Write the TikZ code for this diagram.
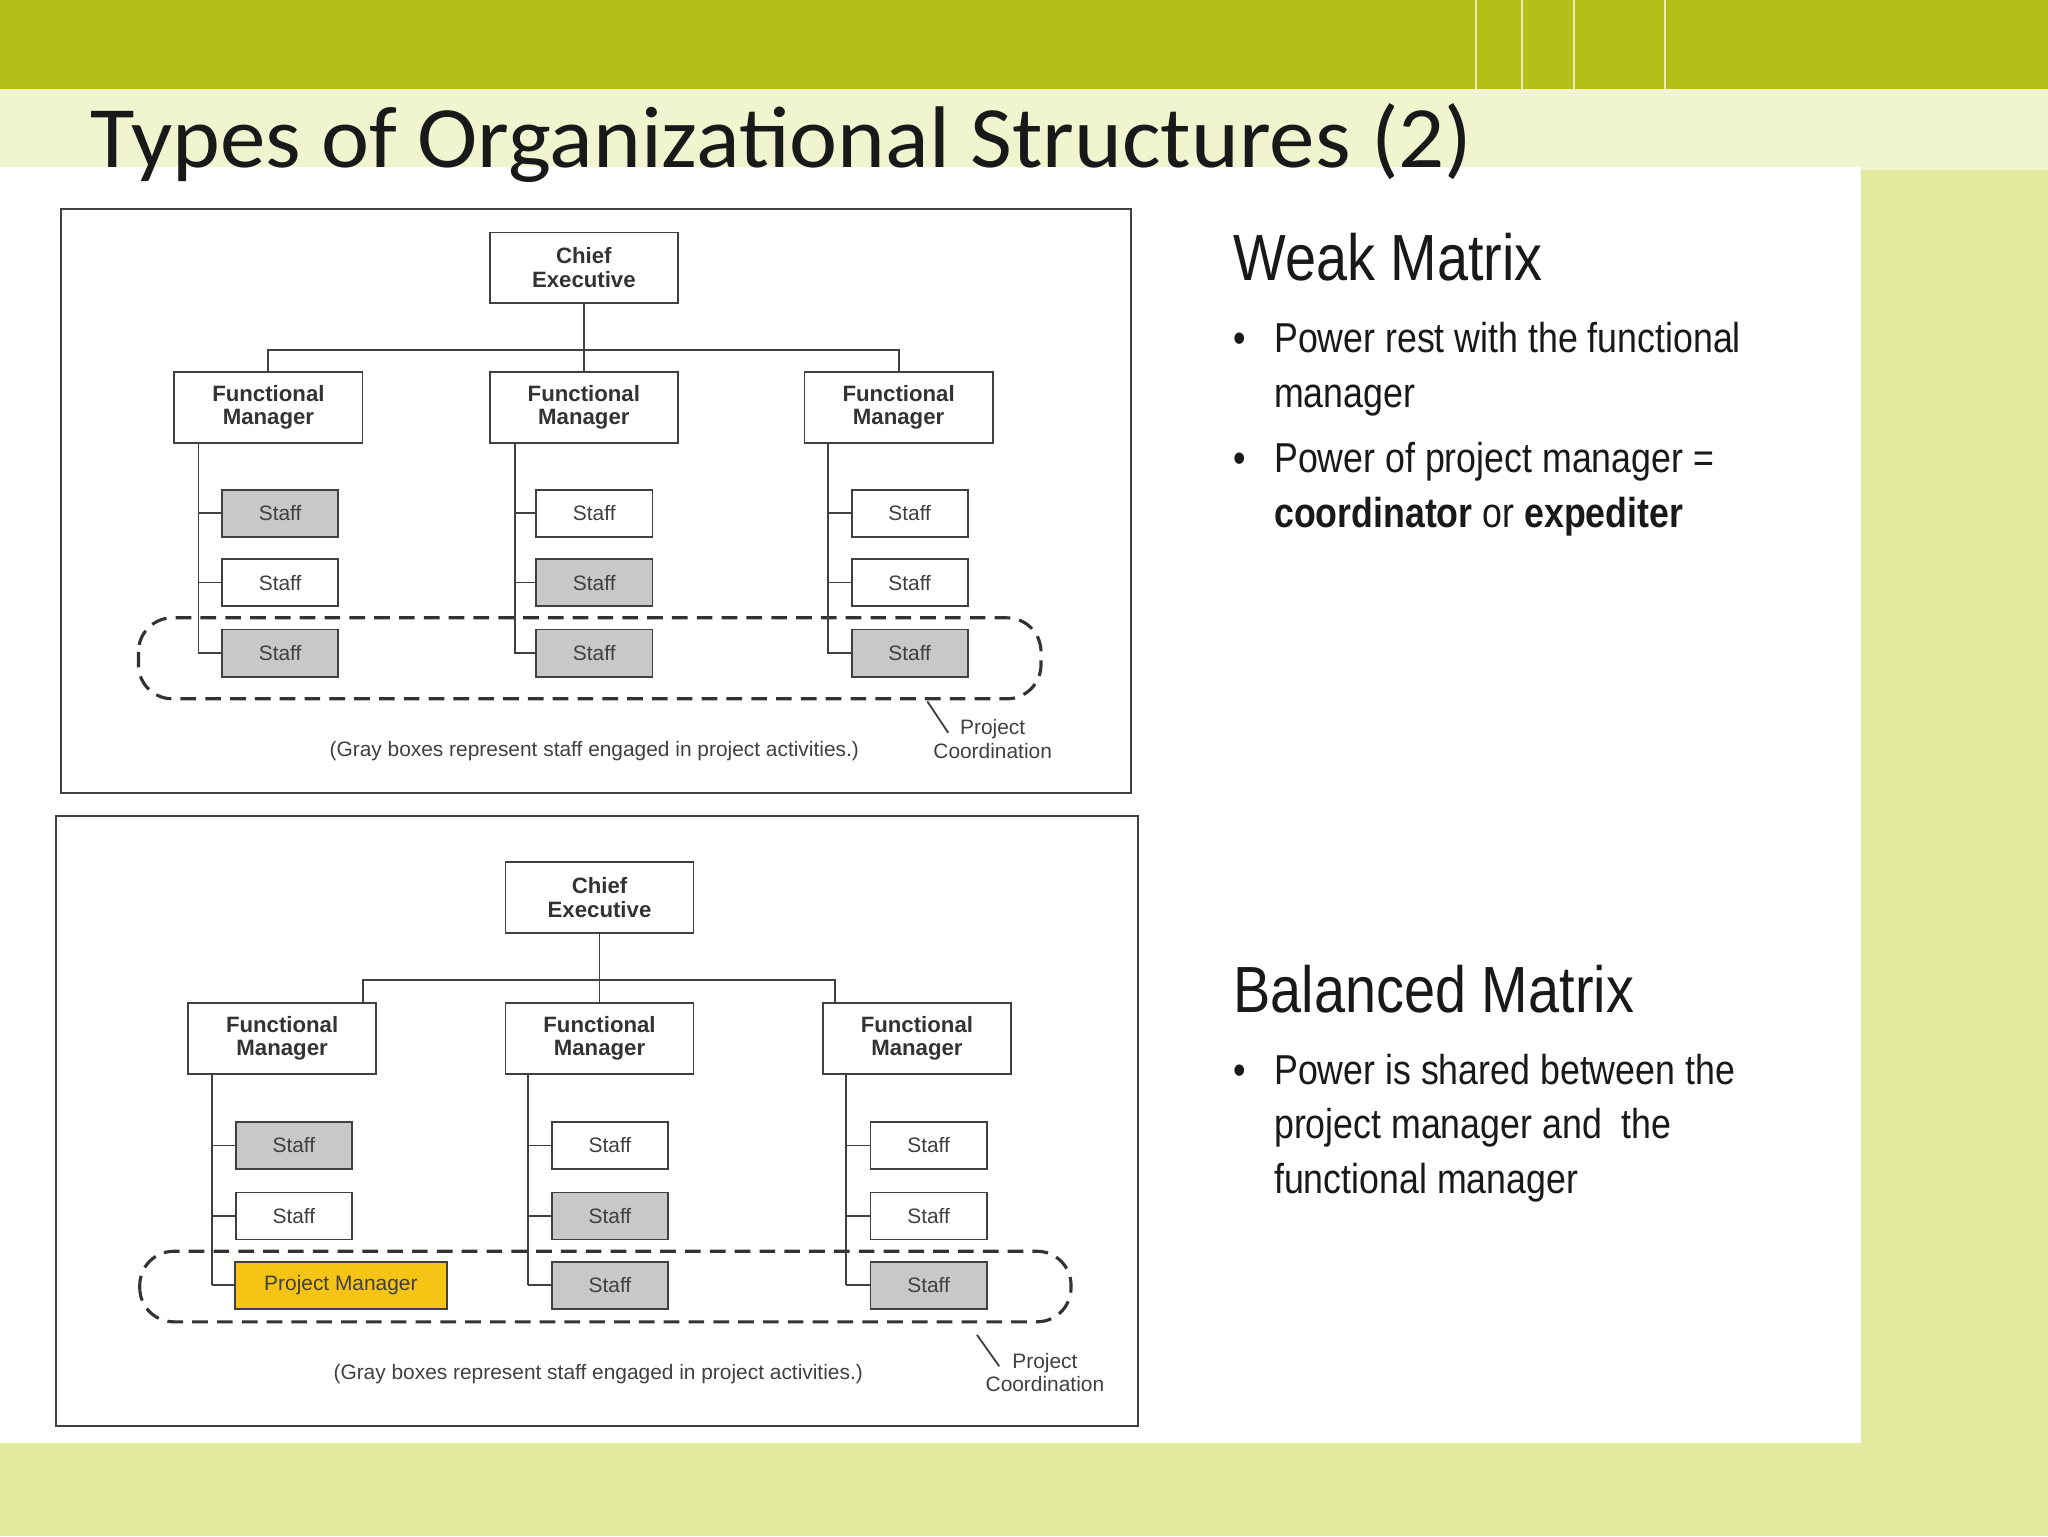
\documentclass[tikz,border=0pt]{standalone}
\usepackage{fontspec}
\setmainfont{Liberation Sans}
\newfontfamily\titlefont[FakeStretch=1.04]{Carlito}
\newfontfamily\narrowfont[FakeStretch=0.855]{Liberation Sans}
\definecolor{band}{RGB}{182,190,24}
\definecolor{bg}{RGB}{226,234,160}
\definecolor{gbox}{RGB}{200,200,200}
\definecolor{pm}{RGB}{245,196,20}
\begin{document}
\begin{tikzpicture}[x=1pt,y=-1pt,
  frame/.style={draw=black!75,line width=1.6pt},
  hbox/.style={draw=black!75,line width=1.4pt,fill=white,minimum width=144pt,minimum height=54pt,align=center,font=\bfseries\fontsize{17}{18}\selectfont,text=black!80},
  sbox/.style={draw=black!75,line width=1.4pt,fill=white,minimum width=89pt,minimum height=36pt,font=\fontsize{16}{17}\selectfont,text=black!75},
  ln/.style={line width=1.4pt,draw=black!75},
  dsh/.style={line width=2.4pt,draw=black!80,dash pattern=on 12pt off 7pt,rounded corners=26pt},
  captext/.style={font=\fontsize{16}{18}\selectfont,text=black!75,align=center},
  head/.style={anchor=base west,font=\narrowfont\fontsize{50}{54}\selectfont,text=black!90},
  bul/.style={anchor=base west,font=\narrowfont\fontsize{32}{36}\selectfont,text=black!90}]
\useasboundingbox (0,0) rectangle (1568,1176);
\fill[bg] (0,0) rectangle (1568,1176);
\fill[bg!50!white] (0,68) rectangle (1568,130);
\fill[band] (0,0) rectangle (1568,68);
\foreach \x in {1130,1165,1205,1275} \draw[white!70!band,line width=1.5pt] (\x,0) -- (\x,68);
\fill[white] (0,128) rectangle (1425,1105);
\node[anchor=base west,font=\titlefont\fontsize{67}{70}\selectfont,text=black!90] (title) at (66,128) {Types of Organizational Structures (2)};

% ===== top diagram
\draw[frame] (47,160) rectangle (866,607);
\node[hbox] (ce1) at (447,205) {Chief\\Executive};
\node[hbox] (fa1) at (205.5,312) {Functional\\Manager};
\node[hbox] (fb1) at (447,312) {Functional\\Manager};
\node[hbox] (fc1) at (688,312) {Functional\\Manager};
\coordinate (h1l) at (205.5,268); \coordinate (h1r) at (688,268);
\draw[ln] (ce1.south) -- (fb1.north);
\draw[ln] (fa1.north) -- (h1l) -- (h1r) -- (fc1.north);
\draw[dsh] (106,473) rectangle (797,535);
\foreach \c/\x/\vx/\fa/\fb in {a/214.5/152/gbox/white, b/455/394/white/gbox, c/696.5/634/white/white}{
  \node[sbox,fill=\fa] (s\c1) at (\x,393) {Staff};
  \node[sbox,fill=\fb] (s\c2) at (\x,446) {Staff};
  \node[sbox,fill=gbox] (s\c3) at (\x,500) {Staff};
  \draw[ln] (\vx,339) -- (\vx,500) -- (s\c3.west);
  \draw[ln] (\vx,393) -- (s\c1.west);
  \draw[ln] (\vx,446) -- (s\c2.west);
}
\coordinate (p1a) at (710,537); \coordinate (p1b) at (726,561);
\draw[ln] (p1a) -- (p1b);
\node[captext] (pc1) at (760,566) {Project\\Coordination};
\node[captext] (g1) at (455,575) {(Gray boxes represent staff engaged in project activities.)};

% ===== bottom diagram
\draw[frame] (43,625) rectangle (871,1092);
\node[hbox] (ce2) at (459,687) {Chief\\Executive};
\node[hbox] (fa2) at (216,795) {Functional\\Manager};
\node[hbox] (fb2) at (459,795) {Functional\\Manager};
\node[hbox] (fc2) at (702,795) {Functional\\Manager};
\coordinate (h2l) at (278,750); \coordinate (h2r) at (639,750);
\draw[ln] (ce2.south) -- (fb2.north);
\draw[ln] (278,768) -- (h2l) -- (h2r) -- (639,768);
\draw[dsh] (107,958) rectangle (820,1012);
\foreach \c/\x/\vx/\fa/\fb in {a/225/162/gbox/white, b/467/404/white/gbox, c/711/648/white/white}{
  \node[sbox,fill=\fa] (t\c1) at (\x,877) {Staff};
  \node[sbox,fill=\fb] (t\c2) at (\x,931) {Staff};
  \draw[ln] (\vx,823) -- (\vx,984);
  \draw[ln] (\vx,877) -- (t\c1.west);
  \draw[ln] (\vx,931) -- (t\c2.west);
}
\node[sbox,fill=gbox] (tb3) at (467,984) {Staff};
\node[sbox,fill=gbox] (tc3) at (711,984) {Staff};
\node[sbox,fill=pm,minimum width=162pt] (pm) at (261,984) {Project Manager};
\draw[ln] (162,984) -- (pm.west);
\draw[ln] (404,984) -- (tb3.west);
\draw[ln] (648,984) -- (tc3.west);
\coordinate (p2a) at (748,1022); \coordinate (p2b) at (765,1046);
\draw[ln] (p2a) -- (p2b);
\node[captext] (pc2) at (800,1051) {Project\\Coordination};
\node[captext] (g2) at (458,1052) {(Gray boxes represent staff engaged in project activities.)};

% ===== right text
\node[head] (wm) at (941,215) {Weak Matrix};
\node[bul] (w1) at (941,270) {•};
\node[bul] (w1t) at (972,270) {Power rest with the functional};
\node[bul] (w1u) at (972,312) {manager};
\node[bul] (w2) at (941,362) {•};
\node[bul] (w2t) at (972,362) {Power of project manager =};
\node[bul] (w2u) at (972,404) {\bfseries coordinator \mdseries or \bfseries expediter};
\node[head] (bm) at (941,775) {Balanced Matrix};
\node[bul] (b1) at (941,830) {•};
\node[bul] (b1t) at (972,830) {Power is shared between the};
\node[bul] (b1u) at (972,872) {project manager and\ \ the};
\node[bul] (b1v) at (972,914) {functional manager};
\end{tikzpicture}
\end{document}
